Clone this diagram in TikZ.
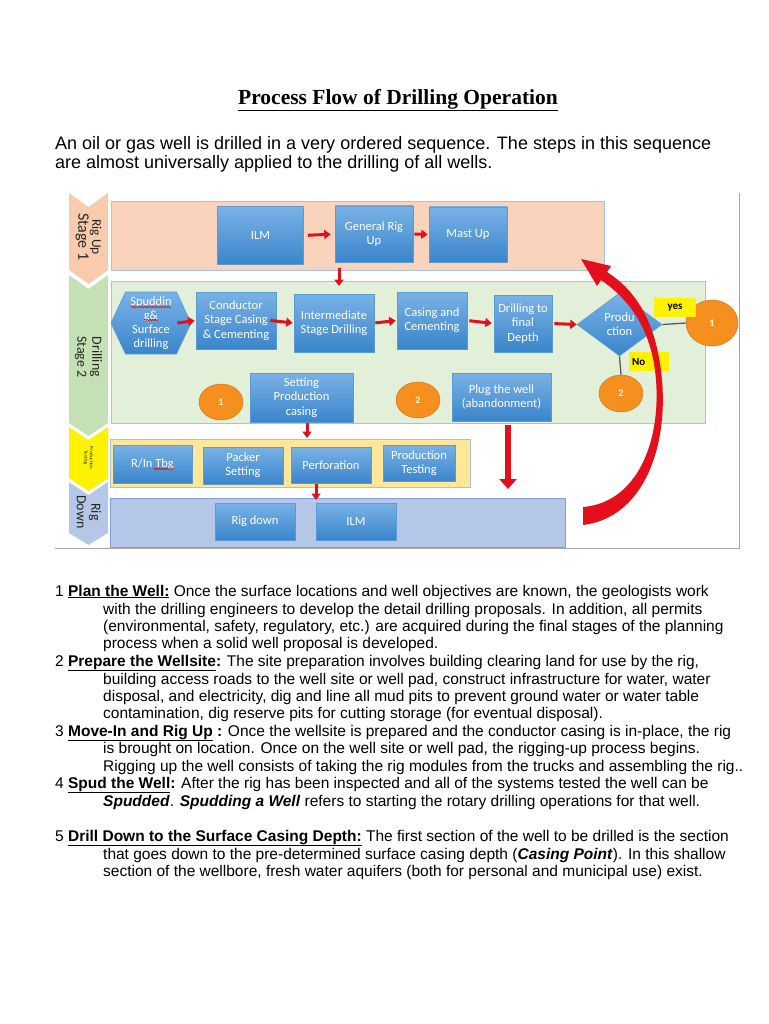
\documentclass[tikz,border=0pt]{standalone}
\usepackage{fontspec}
\setmainfont{Liberation Sans}
\newfontfamily\calfont{Carlito}
\newfontfamily\titlefont{Liberation Serif}
\newfontfamily\listfont{Liberation Sans}
\usetikzlibrary{shapes.geometric,shapes.symbols,arrows.meta,decorations.pathmorphing}
\definecolor{boxtop}{HTML}{79B2E6}
\definecolor{boxbot}{HTML}{3A85CB}
\definecolor{boxedge}{HTML}{5B9BD5}
\definecolor{peach}{HTML}{F8CBAD}
\definecolor{peachpanel}{HTML}{FAD3BC}
\definecolor{greenchev}{HTML}{C5E0B4}
\definecolor{greenpanel}{HTML}{E2F0D9}
\definecolor{yellowpanel}{HTML}{FFE699}
\definecolor{bluechev}{HTML}{B4C7E7}
\definecolor{paneledge}{HTML}{A4C2E4}
\definecolor{orangec}{HTML}{F5901E}
\definecolor{orangeedge}{HTML}{D2761C}
\definecolor{redc}{HTML}{E3101B}
\definecolor{linegray}{HTML}{5A5A5A}
\definecolor{framegray}{HTML}{A6A6A6}
\begin{document}
\begin{tikzpicture}[x=1pt,y=-1pt,
  stepbox/.style={draw=boxedge, line width=0.6pt, top color=boxtop, bottom color=boxbot,
    text=white, font=\calfont\fontsize{12.5}{14.3}\selectfont, align=center, inner sep=1pt},
  panel/.style={draw=paneledge, line width=0.8pt, inner sep=0pt},
  circ/.style={ellipse, draw=orangeedge, line width=0.5pt, fill=orangec, text=white,
    font=\calfont\bfseries\fontsize{10}{11}\selectfont, inner sep=0pt},
  tag/.style={fill=yellow, text=black, font=\calfont\bfseries\fontsize{11}{12}\selectfont, inner sep=0pt},
  chevlabel/.style={rotate=-90, align=center, text=black!85, inner sep=0pt},
  rarrow/.style={draw=redc, line width=3pt, -{Triangle[length=6.5pt,width=9pt]}},
  bigarrow/.style={draw=redc, line width=6pt, -{Triangle[length=10pt,width=17pt]}},
  spell/.style={draw=red!85!black, line width=0.5pt, decorate, decoration={snake, amplitude=0.7pt, segment length=2.6pt}},
  body/.style={anchor=base west, inner sep=0pt, font=\listfont\fontsize{15.5}{18}\selectfont},
  intro/.style={anchor=base west, inner sep=0pt, font=\fontsize{18}{20}\selectfont}
]
\useasboundingbox (0,0) rectangle (768,1024);
\fill[white] (0,0) rectangle (768,1024);

% title and intro
\node[font=\titlefont\bfseries\fontsize{21.5}{24}\selectfont, inner sep=0pt] (title) at (398,100) {\underline{Process Flow of Drilling Operation}};
\node[intro] (intro1) at (55,150) {An oil or gas well is drilled in a very ordered sequence. The steps in this sequence};
\node[intro] (intro2) at (55,169) {are almost universally applied to the drilling of all wells.};

% frame
\draw[framegray, line width=1pt] (55,548) -- (739,548) -- (739,193);

% chevrons
\fill[peach] (69,193) -- (88.5,207) -- (108,193) -- (108,270) -- (88.5,284) -- (69,270) -- cycle;
\fill[greenchev] (69,275) -- (88.5,289) -- (108,275) -- (108,423) -- (88.5,436) -- (69,423) -- cycle;
\fill[yellow] (69,427) -- (88.5,440) -- (108,427) -- (108,478) -- (88.5,491) -- (69,478) -- cycle;
\fill[bluechev] (69,482) -- (88.5,495) -- (108,482) -- (108,533) -- (88.5,545) -- (69,533) -- cycle;
\node[chevlabel, font=\calfont] (ch1) at (88.5,237) {{\fontsize{13.5}{14}\selectfont Rig Up}\\{\fontsize{16}{16}\selectfont Stage 1}};
\node[chevlabel, font=\calfont\fontsize{14}{15}\selectfont] (ch2) at (88.5,357) {Drilling\\Stage 2};
\node[chevlabel, font=\calfont\fontsize{5}{5.5}\selectfont] (ch3) at (88.5,458) {Production\\Testing};
\node[chevlabel, font=\calfont\fontsize{14}{14.5}\selectfont] (ch4) at (89,512) {Rig\\Down};

% panels
\node[panel, fill=peachpanel, minimum width=493pt, minimum height=69pt] (p1) at (357.5,235.5) {};
\node[panel, fill=greenpanel, minimum width=594pt, minimum height=142pt] (p2) at (408,352) {};
\node[panel, fill=yellowpanel, minimum width=360pt, minimum height=48pt] (p3) at (290,463) {};
\node[panel, fill=bluechev, draw=paneledge!80!blue, minimum width=455pt, minimum height=49pt] (p4) at (337.5,522.5) {};

% stage 1
\node[stepbox, minimum width=86pt, minimum height=58pt] (ilm1) at (260.5,235.5) {ILM};
\node[stepbox, minimum width=78pt, minimum height=56pt] (gru) at (374,234) {General Rig\\Up};
\node[stepbox, minimum width=78pt, minimum height=55pt] (mast) at (468,234.5) {Mast Up};

% stage 2
\node[stepbox, shape=signal, signal to=west and east, signal pointer angle=130,
  minimum width=80pt, minimum height=62pt, inner sep=0pt, font=\calfont\fontsize{12.5}{14}\selectfont] (spud) at (151,323) {Spuddin\\g\&\\Surface\\drilling};
\node[stepbox, minimum width=80pt, minimum height=57pt] (cond) at (236,320.5) {Conductor\\Stage Casing\\\& Cementing};
\node[stepbox, minimum width=80pt, minimum height=58pt] (inter) at (334,323) {Intermediate\\Stage Drilling};
\node[stepbox, minimum width=70pt, minimum height=57pt] (casing) at (432,320.5) {Casing and\\Cementing};
\node[stepbox, minimum width=58pt, minimum height=57pt] (drill) at (523,323.5) {Drilling to\\final\\Depth};
\node[stepbox, shape=diamond, aspect=1.35, minimum width=85pt, minimum height=63pt, inner sep=0pt] (prod) at (619.5,324.5) {Produ\\ction};
\node[circ, minimum width=52pt, minimum height=46pt] (c1r) at (712,323) {1};
\node[circ, minimum width=44pt, minimum height=37pt] (c2r) at (621,393.5) {2};
\node[tag, minimum width=42pt, minimum height=19pt] (yes) at (675,307.5) {yes};
\node[tag, minimum width=40pt, minimum height=19pt, text width=34pt, align=left] (no) at (649,361.5) {No};
\draw[linegray, line width=1.3pt] (prod.east) -- (c1r.west);
\draw[linegray, line width=1.3pt] (prod.south) -- (c2r.north);

\node[circ, minimum width=44pt, minimum height=36pt] (c1l) at (221,402) {1};
\node[stepbox, minimum width=103pt, minimum height=49pt] (setting) at (301.5,397.5) {Setting\\Production\\casing};
\node[circ, minimum width=44pt, minimum height=36pt] (c2m) at (418,400) {2};
\node[stepbox, minimum width=99pt, minimum height=48pt] (plug) at (501.5,397) {Plug the well\\(abandonment)};

% production testing
\node[stepbox, minimum width=79pt, minimum height=38pt] (rtbg) at (152.5,464) {R/In Tbg};
\node[stepbox, minimum width=80pt, minimum height=37pt] (packer) at (243,465.5) {Packer\\Setting};
\node[stepbox, minimum width=80pt, minimum height=36pt] (perf) at (331,465) {Perforation};
\node[stepbox, minimum width=72pt, minimum height=36pt] (ptest) at (419,463) {Production\\Testing};

% rig down
\node[stepbox, minimum width=80pt, minimum height=37pt] (rigdown) at (255,521.5) {Rig down};
\node[stepbox, minimum width=80pt, minimum height=37pt] (ilm2) at (356,521.5) {ILM};

% spell-check marks
\draw[spell] ([xshift=-20pt,yshift=16pt]spud.center) -- ([xshift=20pt,yshift=16pt]spud.center);
\draw[spell] ([xshift=-7pt,yshift=3pt]spud.center) -- ([xshift=7pt,yshift=3pt]spud.center);
\draw[spell] ([xshift=1pt,yshift=-5pt]rtbg.center) -- ([xshift=21pt,yshift=-5pt]rtbg.center);

% red arrows
\draw[rarrow, shorten <=4pt, shorten >=4pt] (ilm1.east) -- (gru.west);
\draw[rarrow, shorten <=1pt, shorten >=1pt] (gru.east) -- (mast.west);
\coordinate (gd) at (339,286);
\draw[rarrow, shorten <=6pt] (gru.south -| gd) -- (gd);
\draw[rarrow, shorten >=1pt] ([xshift=-14pt]spud.east) -- (cond.west);
\draw[rarrow, shorten >=1pt] ([xshift=-6pt]cond.east) -- (inter.west);
\draw[rarrow, shorten <=1pt, shorten >=1pt] (inter.east) -- (casing.west);
\draw[rarrow, shorten <=2pt, shorten >=2pt] (casing.east) -- (drill.west);
\draw[rarrow, shorten <=2pt, shorten >=0pt] (drill.east) -- (prod.west);
\coordinate (sd) at (307,438);
\draw[rarrow, shorten <=1pt] (setting.south -| sd) -- (sd);
\coordinate (pd) at (316,500);
\draw[rarrow, shorten <=1pt] (perf.south -| pd) -- (pd);
\coordinate (pld) at (508,489);
\draw[bigarrow, shorten <=4pt] (plug.south -| pld) -- (pld);

% big curved return arrow
\fill[redc] (583,507) -- (583,525)
  .. controls (642,518) and (668,450) .. (662,380)
  .. controls (657,325) and (638,292) .. (607,272)
  -- (611,266) -- (581,259) -- (597,286) -- (601,280)
  .. controls (630,300) and (652,330) .. (656,380)
  .. controls (661,445) and (635,503) .. (583,507) -- cycle;

% body text
\node[body] (l1a) at (55,596) {1 \textbf{\underline{Plan the Well:}} Once the surface locations and well objectives are known, the geologists work};
\node[body] (l1b) at (103,614) {with the drilling engineers to develop the detail drilling proposals. In addition, all permits};
\node[body] (l1c) at (103,631) {(environmental, safety, regulatory, etc.) are acquired during the final stages of the planning};
\node[body] (l1d) at (103,648) {process when a solid well proposal is developed.};
\node[body] (l2a) at (55,666) {2 \textbf{\underline{Prepare the Wellsite}:} The site preparation involves building clearing land for use by the rig,};
\node[body] (l2b) at (103,684) {building access roads to the well site or well pad, construct infrastructure for water, water};
\node[body] (l2c) at (103,701) {disposal, and electricity, dig and line all mud pits to prevent ground water or water table};
\node[body] (l2d) at (103,718) {contamination, dig reserve pits for cutting storage (for eventual disposal).};
\node[body] (l3a) at (55,736) {3 \textbf{\underline{Move-In and Rig Up} :} Once the wellsite is prepared and the conductor casing is in-place, the rig};
\node[body] (l3b) at (103,753) {is brought on location. Once on the well site or well pad, the rigging-up process begins.};
\node[body] (l3c) at (103,771) {Rigging up the well consists of taking the rig modules from the trucks and assembling the rig..};
\node[body] (l4a) at (55,788) {4 \textbf{\underline{Spud the Well}:} After the rig has been inspected and all of the systems tested the well can be};
\node[body] (l4b) at (103,806) {\textbf{\textit{Spudded}}. \textbf{\textit{Spudding a Well}} refers to starting the rotary drilling operations for that well.};
\node[body] (l5a) at (55,841) {5 \textbf{\underline{Drill Down to the Surface Casing Depth:}} The first section of the well to be drilled is the section};
\node[body] (l5b) at (103,859) {that goes down to the pre-determined surface casing depth (\textbf{\textit{Casing Point}}). In this shallow};
\node[body] (l5c) at (103,876) {section of the wellbore, fresh water aquifers (both for personal and municipal use) exist.};
\end{tikzpicture}
\end{document}
